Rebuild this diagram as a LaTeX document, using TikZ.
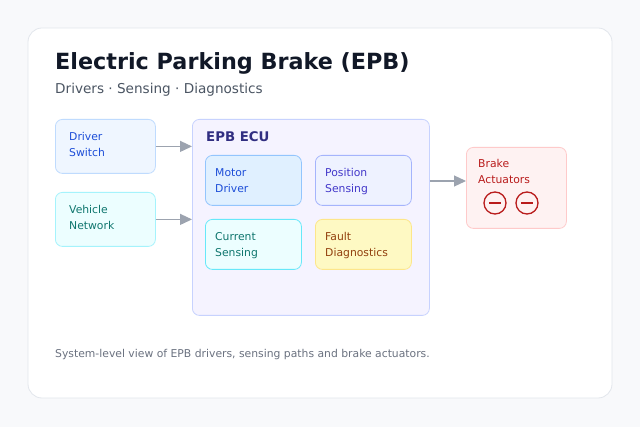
\documentclass[tikz,border=0pt]{standalone}
\usepackage{fontspec}
\setmainfont{DejaVu Sans}
\usetikzlibrary{positioning,arrows.meta}
\definecolor{bgc}{HTML}{F8F9FB}
\definecolor{cardb}{HTML}{E2E6EC}
\definecolor{titlec}{HTML}{111827}
\definecolor{subc}{HTML}{4B5563}
\definecolor{arrc}{HTML}{9CA3AF}
\definecolor{blued}{HTML}{BFDBFE}\definecolor{bluef}{HTML}{EFF6FF}\definecolor{bluet}{HTML}{1D4ED8}
\definecolor{cyand}{HTML}{A5F3FC}\definecolor{cyanf}{HTML}{ECFEFF}\definecolor{tealt}{HTML}{0F766E}
\definecolor{ecud}{HTML}{C7D2FE}\definecolor{ecuf}{HTML}{F5F3FF}\definecolor{ecut}{HTML}{312E81}
\definecolor{motd}{HTML}{93C5FD}\definecolor{motf}{HTML}{E0F0FF}
\definecolor{posd}{HTML}{A5B4FC}\definecolor{posf}{HTML}{EEF2FF}\definecolor{post}{HTML}{4338CA}
\definecolor{curd}{HTML}{67E8F9}
\definecolor{fltd}{HTML}{FDE68A}\definecolor{fltf}{HTML}{FEF9C3}\definecolor{fltt}{HTML}{92400E}
\definecolor{actd}{HTML}{FECACA}\definecolor{actf}{HTML}{FEF2F2}\definecolor{actt}{HTML}{B91C1C}
\definecolor{footc}{HTML}{6B7280}
\tikzset{
  box/.style n args={2}{draw=#1,fill=#2,rounded corners=7pt,line width=0.8pt,anchor=north west,inner sep=0pt},
  lbl/.style={anchor=north west,align=left,font=\fontsize{10.8}{16}\selectfont,inner sep=0pt},
  link/.style={draw=arrc,line width=1.2pt,-{Triangle[length=12pt,width=11pt]}}
}
\begin{document}
\begin{tikzpicture}[x=1pt,y=-1pt]
\fill[bgc] (0,0) rectangle (640,427);
\useasboundingbox (0,0) rectangle (640,427);
\draw[cardb,fill=white,rounded corners=14pt,line width=0.8pt] (28,28) rectangle (612,398);
\node[anchor=base west,inner sep=0pt,text=titlec,font=\fontsize{22.3}{26}\selectfont\bfseries] (title) at (55,70) {Electric Parking Brake (EPB)};
\node[anchor=base west,inner sep=0pt,text=subc,font=\fontsize{13.6}{16}\selectfont] (sub) at (55,94) {Drivers · Sensing · Diagnostics};
% inputs
\node[box={blued}{bluef},minimum width=100pt,minimum height=54pt] (drv) at (55,119) {};
\node[lbl,text=bluet] at (69,132) {Driver\\Switch};
\node[box={cyand}{cyanf},minimum width=100pt,minimum height=54pt] (net) at (55,192) {};
\node[lbl,text=tealt] at (69,205) {Vehicle\\Network};
% ecu
\node[box={ecud}{ecuf},minimum width=237pt,minimum height=196pt] (ecu) at (192,119) {};
\node[anchor=base west,inner sep=0pt,text=ecut,font=\fontsize{13.3}{16}\selectfont\bfseries] at (206,142) {EPB ECU};
\node[box={motd}{motf},minimum width=96pt,minimum height=50pt] (mot) at (205,155) {};
\node[lbl,text=bluet] at (215,168) {Motor\\Driver};
\node[box={posd}{posf},minimum width=96pt,minimum height=50pt] (pos) at (315,155) {};
\node[lbl,text=post] at (325,168) {Position\\Sensing};
\node[box={curd}{cyanf},minimum width=96pt,minimum height=50pt] (cur) at (205,219) {};
\node[lbl,text=tealt] at (215,232) {Current\\Sensing};
\node[box={fltd}{fltf},minimum width=96pt,minimum height=50pt] (flt) at (315,219) {};
\node[lbl,text=fltt] at (325,232) {Fault\\Diagnostics};
% output
\node[box={actd}{actf},minimum width=100pt,minimum height=81pt] (act) at (466,147) {};
\node[lbl,text=actt] at (478,159) {Brake\\Actuators};
\foreach \cx in {495,527}{
  \draw[actt,line width=1.3pt] (\cx,203) circle (11pt);
  \draw[actt,line width=1.6pt] (\cx-6,203) -- (\cx+6,203);
}
% connectors
\coordinate (e1) at (ecu.west |- drv.east);
\coordinate (e2) at (ecu.west |- net.east);
\coordinate (o1) at (ecu.east |- 0,181);
\coordinate (o2) at (act.west |- 0,181);
\draw[link] (drv.east) -- (e1);
\draw[link] (net.east) -- (e2);
\draw[link] (o1) -- (o2);
\node[anchor=base west,inner sep=0pt,text=footc,font=\fontsize{10.8}{13}\selectfont] (foot) at (55,358) {System-level view of EPB drivers, sensing paths and brake actuators.};
\end{tikzpicture}
\end{document}
